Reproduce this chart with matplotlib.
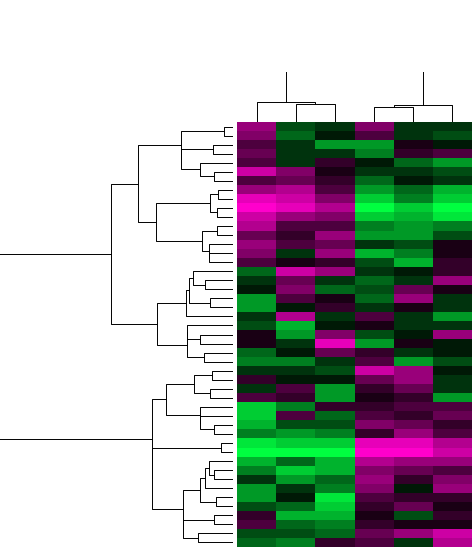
import numpy as np
import matplotlib
matplotlib.use("Agg")
import matplotlib.pyplot as plt
from matplotlib.colors import LinearSegmentedColormap

samples = ["S1", "S2", "S3", "S4", "S5", "S6"]
top_rows = [
    [0.6,-0.3,-0.2,0.5,-0.2,-0.2],
    [0.5,-0.4,-0.1,0.3,-0.2,-0.3],
    [0.3,-0.2,-0.6,-0.6,0.1,-0.1],
    [0.4,-0.2,-0.2,-0.5,0.2,0.3],
    [0.3,-0.2,0.2,-0.1,-0.4,-0.6],
    [0.8,0.5,0.1,-0.2,-0.2,-0.3],
    [0.3,0.4,0.2,-0.4,-0.1,-0.2],
    [0.6,0.7,0.3,-0.6,-0.4,-0.7],
    [0.9,0.8,0.5,-0.8,-0.5,-0.8],
    [1.0,0.9,0.7,-1.0,-0.8,-1.0],
    [0.8,0.6,0.5,-0.8,-0.7,-0.9],
    [0.7,0.3,0.3,-0.5,-0.6,-0.5],
    [0.4,0.2,0.6,-0.6,-0.6,-0.3],
    [0.6,0.3,0.4,-0.2,-0.3,0.1],
    [0.5,-0.2,0.6,-0.7,-0.5,0.1],
    [0.3,0.1,0.2,-0.3,-0.7,0.2],
    [-0.4,0.8,0.6,-0.2,-0.1,0.2],
    [-0.2,0.4,-0.2,-0.4,-0.2,0.6],
    [-0.1,0.5,-0.4,-0.3,0.4,0.1],
    [-0.6,0.3,0.1,-0.4,0.6,-0.2],
]
bottom_rows = [
    [-0.6,-0.1,0.2,-0.2,0.1,-0.2],
    [-0.2,0.7,-0.2,0.3,-0.2,-0.6],
    [-0.3,-0.7,-0.1,0.1,-0.2,-0.2],
    [0.1,-0.6,0.5,-0.3,-0.1,0.6],
    [0.1,-0.2,0.9,-0.6,0.1,-0.1],
    [-0.4,-0.1,0.4,0.2,-0.2,-0.1],
    [-0.5,-0.5,-0.2,0.3,-0.6,-0.3],
    [-0.2,-0.2,-0.3,0.8,0.6,-0.1],
    [0.2,-0.1,-0.1,0.4,0.6,-0.2],
    [-0.2,0.3,-0.6,0.2,0.4,-0.2],
    [0.3,0.2,-0.6,0.1,0.2,-0.6],
    [-0.8,-0.5,0.2,0.2,0.3,0.3],
    [-0.8,0.3,-0.4,0.3,0.2,0.4],
    [-0.7,-0.3,-0.3,0.5,0.4,0.2],
    [-0.5,-0.6,-0.5,0.2,0.6,0.3],
    [-0.9,-0.8,-0.8,0.9,0.9,0.7],
    [-1.0,-1.0,-1.0,1.0,1.0,0.8],
    [-0.7,-0.4,-0.7,0.7,0.6,0.6],
    [-0.5,-0.8,-0.7,0.5,0.4,0.3],
    [-0.2,-0.6,-0.4,0.6,0.2,0.5],
    [-0.6,-0.2,-0.5,0.5,-0.1,0.6],
    [-0.6,-0.1,-0.9,0.3,0.2,0.2],
    [-0.3,-0.4,-0.8,0.2,0.4,0.1],
    [0.2,-0.7,-0.7,0.1,-0.3,0.2],
    [0.3,-0.4,-0.5,0.2,0.1,0.1],
    [-0.3,-0.3,-0.4,0.4,0.6,0.8],
    [-0.4,-0.5,0.2,0.3,-0.2,0.7],
]
data = np.array(top_rows + bottom_rows)

def constrained_linkage(X):
    # contiguity-constrained Ward clustering (keeps given order)
    clusters = [dict(n=1, mean=X[i].copy(), pos=i + 0.5, h=0.0) for i in range(len(X))]
    links = []
    while len(clusters) > 1:
        best, bi = None, 0
        for i in range(len(clusters) - 1):
            a, b = clusters[i], clusters[i + 1]
            d = np.sqrt(2 * a["n"] * b["n"] / (a["n"] + b["n"])) * np.linalg.norm(a["mean"] - b["mean"])
            if best is None or d < best:
                best, bi = d, i
        a, b = clusters[bi], clusters[bi + 1]
        h = max(best, a["h"], b["h"])
        links.append((a["pos"], a["h"], b["pos"], b["h"], h))
        n = a["n"] + b["n"]
        clusters[bi:bi + 2] = [dict(n=n, mean=(a["mean"] * a["n"] + b["mean"] * b["n"]) / n,
                                    pos=(a["pos"] + b["pos"]) / 2, h=h)]
    return links, clusters[0]["h"]

cmap = LinearSegmentedColormap.from_list("gm", [(0.0, 1.0, 0.25), (0, 0, 0), (1.0, 0.0, 0.8)])

fig = plt.figure(figsize=(4.74, 5.47), dpi=100)
W, H = 474, 547
hm = fig.add_axes([237 / W, 0, 235 / W, (547 - 122) / H])
nr, nc = data.shape
hm.pcolormesh(np.arange(nc + 1), np.arange(nr + 1), data, cmap=cmap, vmin=-1, vmax=1)
hm.set_xlim(0, nc); hm.set_ylim(nr, 0)
hm.axis("off")

# row dendrogram
rd = fig.add_axes([0, 0, 233 / W, (547 - 122) / H])
links, root = constrained_linkage(data)
for p1, h1, p2, h2, h in links:
    rd.plot([h1, h, h, h2], [p1, p1, p2, p2], color="black", lw=0.7)
rd.set_xlim(root * 0.985, 0)
rd.set_ylim(nr, 0)
rd.axis("off")

# column dendrogram
cd = fig.add_axes([237 / W, (547 - 122) / H, 235 / W, 50 / H])
clinks, croot = constrained_linkage(data.T)
for p1, h1, p2, h2, h in clinks:
    cd.plot([p1, p1, p2, p2], [h1, h, h, h2], color="black", lw=0.7)
cd.set_xlim(0, nc)
cd.set_ylim(0, croot * 0.97)
cd.axis("off")

fig.savefig("out.png", dpi=100)
